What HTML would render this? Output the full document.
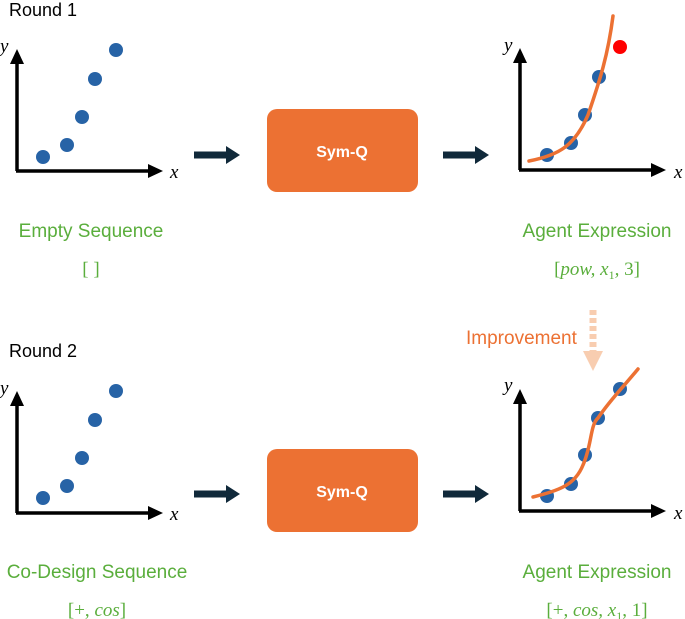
<!DOCTYPE html>
<html><head><meta charset="utf-8"><style>
html,body{margin:0;padding:0;background:#fff;}
svg{display:block;}
.t{font-family:"Liberation Sans",sans-serif;}
.m{font-family:"Liberation Serif",serif;font-style:italic;}
.n{font-style:normal;}
</style></head><body>
<svg width="685" height="619" viewBox="0 0 685 619" xmlns="http://www.w3.org/2000/svg">
<defs>
<g id="axes">
 <path d="M17,171 V62" stroke="#000" stroke-width="3.5" fill="none"/>
 <polygon points="17,49 10,64 24,64" fill="#000"/>
 <path d="M16,171 H150" stroke="#000" stroke-width="3.5" fill="none"/>
 <polygon points="163,171 148,164 148,178" fill="#000"/>
</g>
<g id="barrow">
 <rect x="0" y="-3.5" width="34" height="7" fill="#10293a"/>
 <polygon points="32,-9 46,0 32,9" fill="#10293a"/>
</g>
</defs>

<!-- Round 1 -->
<text x="9" y="16" class="t" font-size="18" fill="#000">Round 1</text>
<use href="#axes"/>
<text x="0" y="52" class="m" font-size="19">y</text>
<text x="170" y="178" class="m" font-size="19">x</text>
<g fill="#2763a6">
<circle cx="43" cy="157" r="7"/><circle cx="67" cy="145" r="7"/><circle cx="82" cy="117" r="7"/><circle cx="95" cy="79" r="7"/><circle cx="116" cy="50" r="7"/>
</g>
<use href="#barrow" x="194" y="155"/>
<rect x="267" y="109" width="151" height="83" rx="10" fill="#ec7133"/>
<text x="342" y="157" class="t" font-size="16" font-weight="bold" fill="#fff" text-anchor="middle">Sym-Q</text>
<use href="#barrow" x="443" y="155"/>

<g transform="translate(503,-1)"><use href="#axes"/></g>
<text x="504" y="51" class="m" font-size="19">y</text>
<text x="674" y="178" class="m" font-size="19">x</text>
<g fill="#2763a6">
<circle cx="547" cy="155" r="7"/><circle cx="571" cy="143" r="7"/><circle cx="585" cy="115" r="7"/><circle cx="599" cy="77" r="7"/>
</g>
<circle cx="620" cy="47" r="7" fill="#f00"/>
<path d="M529,161 C560,155 575,145 588,115 C600,80 608,55 613,16" stroke="#ec7133" stroke-width="3.5" fill="none" stroke-linecap="round"/>

<text x="91" y="237" class="t" font-size="19" fill="#5aae3c" text-anchor="middle">Empty Sequence</text>
<text x="91" y="275" class="m" font-size="19" fill="#5aae3c" text-anchor="middle" style="font-style:normal">[ ]</text>
<text x="597" y="237" class="t" font-size="19" fill="#5aae3c" text-anchor="middle">Agent Expression</text>
<text x="597" y="275" class="m" font-size="19" fill="#5aae3c" text-anchor="middle"><tspan style="font-style:normal">[</tspan>pow, x<tspan font-size="12" dy="4" style="font-style:normal">1</tspan><tspan dy="-4">, </tspan><tspan style="font-style:normal">3]</tspan></text>

<!-- Round 2 -->
<text x="9" y="357" class="t" font-size="18" fill="#000">Round 2</text>
<g transform="translate(0,342)"><use href="#axes"/></g>
<text x="0" y="394" class="m" font-size="19">y</text>
<text x="170" y="520" class="m" font-size="19">x</text>
<g fill="#2763a6">
<circle cx="43" cy="498" r="7"/><circle cx="67" cy="486" r="7"/><circle cx="82" cy="458" r="7"/><circle cx="95" cy="420" r="7"/><circle cx="116" cy="391" r="7"/>
</g>
<use href="#barrow" x="194" y="494"/>
<rect x="267" y="449" width="151" height="83" rx="10" fill="#ec7133"/>
<text x="342" y="497" class="t" font-size="16" font-weight="bold" fill="#fff" text-anchor="middle">Sym-Q</text>
<use href="#barrow" x="443" y="494"/>

<g transform="translate(503,340)"><use href="#axes"/></g>
<text x="504" y="391" class="m" font-size="19">y</text>
<text x="674" y="519" class="m" font-size="19">x</text>
<g fill="#2763a6">
<circle cx="547" cy="496" r="7"/><circle cx="571" cy="484" r="7"/><circle cx="585" cy="455" r="7"/><circle cx="598" cy="418" r="7"/><circle cx="620" cy="389" r="7"/>
</g>
<path d="M533,497 C560,490 575,485 583,465 C592,445 590,425 598,418 C610,400 625,385 638,369" stroke="#ec7133" stroke-width="3.5" fill="none" stroke-linecap="round"/>

<!-- Improvement -->
<path d="M593,310 V353" stroke="#f8cdb0" stroke-width="7" stroke-dasharray="5,3" fill="none"/>
<polygon points="583,351 603,351 593,371" fill="#f8cdb0"/>
<text x="466" y="344" class="t" font-size="19" fill="#ec7133">Improvement</text>

<text x="97" y="578" class="t" font-size="19" fill="#5aae3c" text-anchor="middle">Co-Design Sequence</text>
<text x="97" y="616" class="m" font-size="19" fill="#5aae3c" text-anchor="middle"><tspan style="font-style:normal">[+, </tspan>cos<tspan style="font-style:normal">]</tspan></text>
<text x="597" y="578" class="t" font-size="19" fill="#5aae3c" text-anchor="middle">Agent Expression</text>
<text x="597" y="616" class="m" font-size="19" fill="#5aae3c" text-anchor="middle"><tspan style="font-style:normal">[+, </tspan>cos, x<tspan font-size="12" dy="4" style="font-style:normal">1</tspan><tspan dy="-4" style="font-style:normal">, 1]</tspan></text>
</svg>
</body></html>
